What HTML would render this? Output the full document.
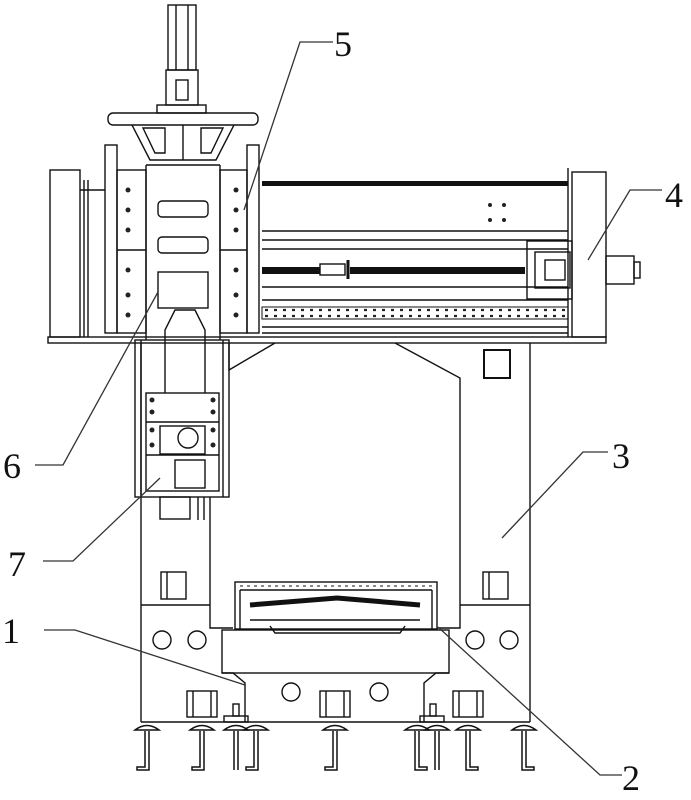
<!DOCTYPE html>
<html><head><meta charset="utf-8"><style>
html,body{margin:0;padding:0;background:#fff;}
svg{display:block;}
text{font-family:"Liberation Serif",serif;font-size:36px;fill:#111;}
</style></head><body>
<svg width="691" height="800" viewBox="0 0 691 800" xmlns="http://www.w3.org/2000/svg">
<g fill="none" stroke="#111" stroke-width="1.4">
<!-- base frame -->
<line x1="141" y1="343" x2="141" y2="722"/>
<line x1="530" y1="343" x2="530" y2="722"/>
<line x1="141" y1="722" x2="530" y2="722"/>
<polyline points="395,343 460,378 460,628 437,628"/>
<polyline points="275,343 229,370 229,343"/>
<polyline points="210,497 210,628 233,628"/>
<line x1="141" y1="605" x2="210" y2="605"/>
<line x1="460" y1="605" x2="530" y2="605"/>
<rect x="222" y="630" width="227" height="43"/>
<polyline points="222,673 233,673 245,683 245,722"/>
<polyline points="449,673 436,673 424,683 424,722"/>
<circle cx="162" cy="640" r="9"/><circle cx="197" cy="640" r="9"/>
<circle cx="475" cy="640" r="9"/><circle cx="509" cy="640" r="9"/>
<circle cx="291" cy="692" r="9"/><circle cx="379" cy="692" r="9"/>
<rect x="161" y="572" width="25" height="27"/><line x1="167" y1="572" x2="167" y2="599"/>
<rect x="483" y="572" width="25" height="27"/><line x1="489" y1="572" x2="489" y2="599"/>
<rect x="484" y="350" width="26" height="28" stroke-width="2"/>
<!-- bolt boxes -->
<rect x="187" y="691" width="30" height="26"/><rect x="320" y="691" width="30" height="26"/><rect x="453" y="691" width="30" height="26"/>
<line x1="193" y1="691" x2="193" y2="717"/><line x1="211" y1="691" x2="211" y2="717"/>
<line x1="326" y1="691" x2="326" y2="717"/><line x1="344" y1="691" x2="344" y2="717"/>
<line x1="459" y1="691" x2="459" y2="717"/><line x1="477" y1="691" x2="477" y2="717"/>
<rect x="224" y="716" width="24" height="6"/><rect x="420" y="716" width="24" height="6"/>
<rect x="233" y="704" width="6" height="12"/><rect x="430" y="704" width="6" height="12"/>
<!-- table -->
<rect x="235" y="582" width="202" height="47"/>
<line x1="240" y1="590" x2="432" y2="590"/>
<line x1="240" y1="590" x2="240" y2="629"/><line x1="432" y1="590" x2="432" y2="629"/>
<polyline points="250,605 337,598 420,605" stroke-width="5"/>
<line x1="250" y1="620" x2="420" y2="620"/>
<polyline points="270,626 275,633 400,633 405,626"/>
<!-- feet -->
<g stroke-width="1.5">
<path d="M135,730 q12,-9 24,0 z M145,731 v36 h-8 v3 h12 v-39 M149,731"/>
<path d="M190,730 q12,-9 24,0 z M200,731 v36 h-8 v3 h12 v-39"/>
<path d="M224,730 q12,-9 24,0 z M234,731 v39 M238,731 v39"/>
<path d="M244,730 q12,-9 24,0 z M254,731 v36 h-8 v3 h12 v-39"/>
<path d="M323,730 q12,-9 24,0 z M333,731 v36 h-8 v3 h12 v-39"/>
<path d="M405,730 q12,-9 24,0 z M415,731 v39 h12 v-3 h-8 v-36"/>
<path d="M425,730 q12,-9 24,0 z M435,731 v39 M439,731 v39"/>
<path d="M456,730 q12,-9 24,0 z M466,731 v39 h12 v-3 h-8 v-36"/>
<path d="M512,730 q12,-9 24,0 z M522,731 v39 h12 v-3 h-8 v-36"/>
</g>
<!-- gantry -->
<rect x="48" y="337" width="558" height="6"/>
<rect x="50" y="170" width="30" height="167"/>
<line x1="84" y1="180" x2="84" y2="337"/>
<line x1="88" y1="180" x2="88" y2="337"/>
<line x1="80" y1="190" x2="105" y2="190"/>
<rect x="572" y="172" width="34" height="165"/>
<line x1="568" y1="168" x2="568" y2="337"/>
<rect x="606" y="256" width="28" height="28"/><rect x="634" y="262" width="6" height="16"/>
<line x1="262" y1="231" x2="568" y2="231"/>
<line x1="262" y1="240" x2="568" y2="240"/>
<line x1="262" y1="249" x2="568" y2="249"/>
<line x1="262" y1="287" x2="568" y2="287"/>
<line x1="262" y1="300" x2="568" y2="300"/>
<line x1="262" y1="327" x2="568" y2="327"/>
<line x1="262" y1="333" x2="568" y2="333"/>
<rect x="527" y="241" width="45" height="58"/>
<rect x="535" y="252" width="35" height="36"/>
<rect x="545" y="260" width="20" height="20"/>
<rect x="320" y="264" width="25" height="11"/>
<line x1="348" y1="260" x2="348" y2="279" stroke-width="3"/>
<!-- column -->
<rect x="105" y="145" width="12" height="188"/>
<rect x="247" y="145" width="12" height="188"/>
<rect x="117" y="170" width="29" height="163"/>
<rect x="220" y="170" width="27" height="163"/>
<line x1="117" y1="250" x2="146" y2="250"/><line x1="220" y1="250" x2="247" y2="250"/>
<line x1="146" y1="165" x2="146" y2="340"/><line x1="220" y1="165" x2="220" y2="340"/>
<line x1="146" y1="165" x2="220" y2="165"/>
<rect x="158" y="201" width="50" height="16" rx="4"/>
<rect x="158" y="237" width="50" height="16" rx="4"/>
<rect x="158" y="272" width="50" height="36"/>
<rect x="108" y="113" width="150" height="12" rx="5"/>
<polyline points="132,125 150,160 216,160 234,125"/>
<line x1="183" y1="125" x2="183" y2="160"/>
<path d="M143,128 l12,25 h10 v-25 z M223,128 l-12,25 h-10 v-25 z"/>
<rect x="157" y="105" width="49" height="8"/>
<rect x="166" y="70" width="32" height="35"/>
<rect x="176" y="80" width="12" height="20"/>
<rect x="168" y="5" width="28" height="65"/>
<line x1="176" y1="5" x2="176" y2="70"/><line x1="188" y1="5" x2="188" y2="70"/>
<!-- head -->
<rect x="135" y="340" width="94" height="157"/>
<line x1="141" y1="340" x2="141" y2="497"/><line x1="223" y1="340" x2="223" y2="497"/>
<rect x="146" y="393" width="73" height="98"/>
<line x1="146" y1="422" x2="219" y2="422"/>
<line x1="146" y1="455" x2="219" y2="455"/>
<rect x="160" y="426" width="45" height="28"/>
<circle cx="188" cy="438" r="10"/>
<rect x="175" y="460" width="30" height="28"/>
<polyline points="165,393 165,330 175,310 195,310 205,330 205,393"/>
<rect x="160" y="497" width="30" height="22"/>
<line x1="198" y1="497" x2="198" y2="520"/><line x1="204" y1="497" x2="204" y2="520"/>
</g>
<g fill="#111">
<rect x="262" y="181" width="306" height="5"/>
<rect x="262" y="267" width="58" height="7"/><rect x="350" y="267" width="175" height="7"/>
<rect x="262" y="307" width="306" height="12" fill="none" stroke="#111" stroke-width="1"/>
<g fill="#222">
<circle cx="490" cy="205" r="2"/><circle cx="504" cy="205" r="2"/><circle cx="490" cy="220" r="2"/><circle cx="504" cy="220" r="2"/>
<circle cx="128" cy="190" r="2.5"/><circle cx="128" cy="210" r="2.5"/><circle cx="128" cy="230" r="2.5"/><circle cx="128" cy="270" r="2.5"/><circle cx="128" cy="295" r="2.5"/><circle cx="128" cy="315" r="2.5"/>
<circle cx="236" cy="190" r="2.5"/><circle cx="236" cy="210" r="2.5"/><circle cx="236" cy="230" r="2.5"/><circle cx="236" cy="270" r="2.5"/><circle cx="236" cy="295" r="2.5"/><circle cx="236" cy="315" r="2.5"/>
<circle cx="152" cy="400" r="2.5"/><circle cx="152" cy="412" r="2.5"/><circle cx="152" cy="430" r="2.5"/><circle cx="152" cy="445" r="2.5"/>
<circle cx="213" cy="400" r="2.5"/><circle cx="213" cy="412" r="2.5"/><circle cx="213" cy="430" r="2.5"/><circle cx="213" cy="445" r="2.5"/>
</g>
</g>
<g fill="none" stroke="#222" stroke-width="2.2" stroke-dasharray="3,6">
<line x1="265" y1="310" x2="565" y2="310"/><line x1="265" y1="316" x2="565" y2="316"/>
</g>
<g fill="none" stroke="#444" stroke-width="1.2" stroke-dasharray="3,4">
<line x1="240" y1="586" x2="432" y2="586"/>
</g>
<!-- leaders -->
<g fill="none" stroke="#333" stroke-width="1.3">
<polyline points="333,42 300,42 244,210"/>
<polyline points="662,190 630,190 588,260"/>
<polyline points="35,465 63,465 158,292"/>
<polyline points="608,452 583,452 502,538"/>
<polyline points="43,561 73,561 160,478"/>
<polyline points="44,630 75,630 245,685"/>
<polyline points="622,775 600,775 438,627"/>
</g>
<text x="334" y="56">5</text>
<text x="665" y="207">4</text>
<text x="3" y="478">6</text>
<text x="612" y="468">3</text>
<text x="8" y="576">7</text>
<text x="2" y="643">1</text>
<text x="622" y="790">2</text>
</svg>
</body></html>
